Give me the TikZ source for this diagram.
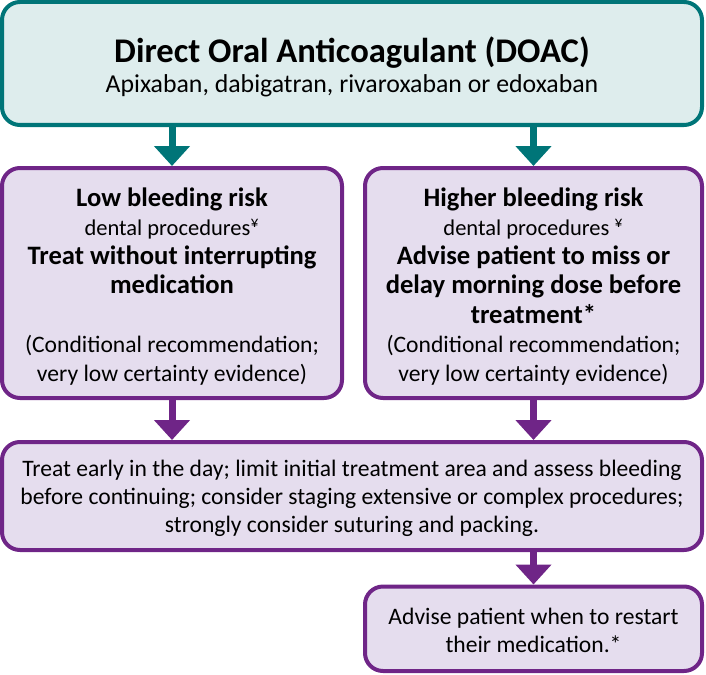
\documentclass[tikz,border=0pt]{standalone}
\usepackage{fontspec}
\setmainfont{Carlito}
\usetikzlibrary{arrows.meta,positioning,calc}
\definecolor{doacteal}{RGB}{0,117,120}
\definecolor{doacfill}{RGB}{222,237,237}
\definecolor{riskpurple}{RGB}{111,37,135}
\definecolor{riskfill}{RGB}{229,221,238}
\newcommand{\headfont}{\fontsize{13.3}{14.6}\selectfont\bfseries}
\newcommand{\notefont}{\fontsize{11.25}{14.6}\selectfont}
\newcommand{\topgap}[1]{\rule{0pt}{#1}}

\begin{document}
\begin{tikzpicture}[x=0.5pt,y=-0.5pt,
  box/.style={rounded corners=9pt,line width=2pt,align=center,inner sep=0pt,
    font=\fontsize{11.8}{14}\selectfont},
  tealbox/.style={box,draw=doacteal,fill=doacfill},
  purplebox/.style={box,draw=riskpurple,fill=riskfill},
  riskbox/.style={purplebox,minimum height=115pt,font=\fontsize{11.8}{14.6}\selectfont},
  down/.style={line width=3.5pt,-{Triangle[width=17.5pt,length=10pt]}}]
  \useasboundingbox (0,0) rectangle (706,674);
  % top box
  \node[tealbox,minimum width=350pt,minimum height=61.5pt] (doac) at (352,63.5)
    {{\fontsize{17.3}{20}\selectfont\bfseries\topgap{16pt}Direct Oral Anticoagulant (DOAC)}\\[1pt]
     {\fontsize{12.9}{15}\selectfont Apixaban, dabigatran, rivaroxaban or edoxaban}};
  % bleeding risk boxes
  \node[riskbox,minimum width=170pt] (low) at (172,283)
    {{\headfont\topgap{12.8pt}Low bleeding risk}\\
     {\notefont dental procedures\textsuperscript{¥}}\\
     {\headfont Treat without interrupting}\\
     {\headfont medication}\\[14.6pt]
     (Conditional recommendation;\\
     very low certainty evidence)};
  \node[riskbox,minimum width=168.5pt] (higher) at (533.5,283)
    {{\headfont\topgap{12.8pt}Higher bleeding risk}\\
     {\notefont dental procedures \textsuperscript{¥}}\\
     {\headfont Advise patient to miss or}\\
     {\headfont delay morning dose before}\\
     {\headfont treatment*}\\
     (Conditional recommendation;\\
     very low certainty evidence)};
  % common steps
  \node[purplebox,minimum width=350pt,minimum height=54pt] (steps) at (352,496)
    {\topgap{10.9pt}Treat early in the day; limit initial treatment area and assess bleeding\\
     before continuing; consider staging extensive or complex procedures;\\
     strongly consider suturing and packing.};
  \node[purplebox,minimum width=168.5pt,minimum height=42.25pt] (restart) at (533.5,628.75)
    {\topgap{10.3pt}Advise patient when to restart\\ their medication.*};
  % arrows
  \draw[down,doacteal] (doac.south -| low.north) -- (low.north);
  \draw[down,doacteal] (doac.south -| higher.north) -- (higher.north);
  \draw[down,riskpurple] (low.south) -- (low.south |- steps.north);
  \draw[down,riskpurple] (higher.south) -- (higher.south |- steps.north);
  \draw[down,riskpurple] (steps.south -| restart.north) -- (restart.north);
\end{tikzpicture}
\end{document}
